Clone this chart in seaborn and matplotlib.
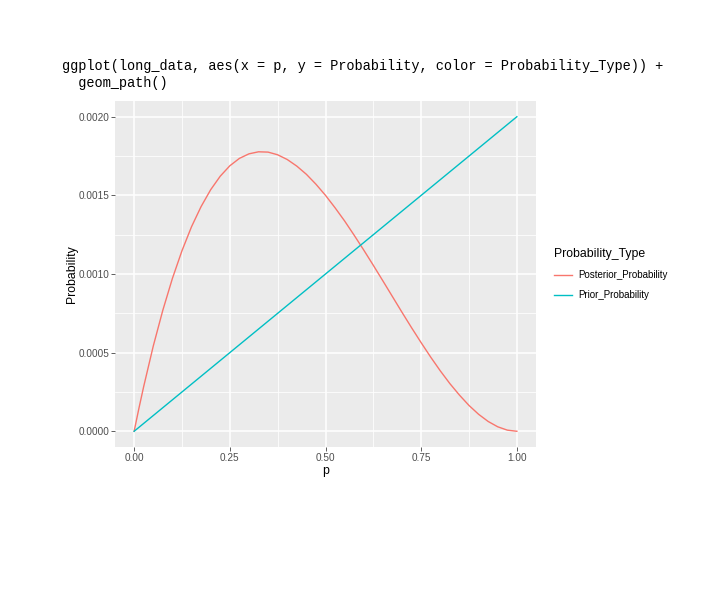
import pandas as pd
import matplotlib
matplotlib.use("Agg")
import matplotlib.pyplot as plt
import seaborn as sns

# values
p_grid = [0.000, 0.0125, 0.025, 0.050, 0.075, 0.100, 0.125, 0.150, 0.175, 0.200, 0.225,
          0.250, 0.275, 0.300, 0.325, 0.350, 0.375, 0.400, 0.425, 0.450, 0.475,
          0.500, 0.525, 0.550, 0.575, 0.600, 0.625, 0.650, 0.675, 0.700, 0.725,
          0.750, 0.775, 0.800, 0.825, 0.850, 0.875, 0.900, 0.925, 0.950, 0.975, 1.000]
posterior = [0.0, 0.000146, 0.000285, 0.000542, 0.000770, 0.000972, 0.001148, 0.001301,
             0.001429, 0.001536, 0.001622, 0.001688, 0.001735, 0.001764, 0.001777,
             0.001775, 0.001758, 0.001728, 0.001686, 0.001634, 0.001571, 0.001500,
             0.001421, 0.001337, 0.001246, 0.001152, 0.001055, 0.000956, 0.000856,
             0.000756, 0.000658, 0.000563, 0.000471, 0.000384, 0.000303, 0.000230,
             0.000164, 0.000108, 0.0000624, 0.0000285, 0.0000073, 0.0]
prior_p = [0.0, 0.25, 0.5, 0.75, 1.0]
prior = [0.0, 0.0005, 0.0010, 0.0015, 0.0020]

x_ticks = [0.0, 0.25, 0.5, 0.75, 1.0]
x_labels = ["0.00", "0.25", "0.50", "0.75", "1.00"]
y_ticks = [0.0, 0.0005, 0.0010, 0.0015, 0.0020]
y_labels = ["0.0000", "0.0005", "0.0010", "0.0015", "0.0020"]

long_data = pd.concat([
    pd.DataFrame({"p": p_grid, "Probability": posterior,
                  "Probability_Type": "Posterior_Probability"}),
    pd.DataFrame({"p": prior_p, "Probability": prior,
                  "Probability_Type": "Prior_Probability"}),
], ignore_index=True)

plt.rcParams["font.family"] = ["Liberation Sans", "DejaVu Sans"]

fig = plt.figure(figsize=(7.11, 5.89), dpi=100)
ax = fig.add_axes([115 / 711, 1 - 447 / 589, (536 - 115) / 711, (447 - 101) / 589])
ax.set_facecolor("#EBEBEB")

sns.lineplot(data=long_data, x="p", y="Probability", hue="Probability_Type",
             palette={"Posterior_Probability": "#F8766D", "Prior_Probability": "#00BFC4"},
             sort=False, estimator=None, linewidth=1.0, ax=ax, legend=False, zorder=3)

ax.set_xlim(-0.05, 1.05)
ax.set_ylim(-0.0001, 0.0021)
ax.set_xticks(x_ticks)
ax.set_xticklabels(x_labels)
ax.set_yticks(y_ticks)
ax.set_yticklabels(y_labels)
ax.set_xticks([0.125, 0.375, 0.625, 0.875], minor=True)
ax.set_yticks([0.00025, 0.00075, 0.00125, 0.00175], minor=True)
ax.grid(which="major", color="white", linewidth=1.1, zorder=1)
ax.grid(which="minor", color="white", linewidth=0.55, zorder=1)
ax.set_axisbelow(True)
for s in ax.spines.values():
    s.set_visible(False)
ax.tick_params(which="major", length=2.75, width=0.55, color="#333333",
               labelsize=7.2, labelcolor="#4D4D4D", pad=1.5)
ax.tick_params(which="minor", length=0)
ax.set_xlabel("p", fontsize=8.8, labelpad=1.5)
ax.set_ylabel("Probability", fontsize=8.8, labelpad=0)

fig.text(62 / 711, 1 - 59 / 589,
         "ggplot(long_data, aes(x = p, y = Probability, color = Probability_Type)) +\n  geom_path()",
         family="Liberation Mono", fontsize=9.85, va="top", ha="left", linespacing=1.25)

# legend
handles = [plt.Line2D([], [], color="#F8766D", lw=1.0),
           plt.Line2D([], [], color="#00BFC4", lw=1.0)]
leg = fig.legend(handles, ["Posterior_Probability", "Prior_Probability"],
                 title="Probability_Type", loc="upper left",
                 bbox_to_anchor=(550 / 711, 1 - 244 / 589), frameon=False,
                 fontsize=7, title_fontsize=8.8, handlelength=1.9,
                 handletextpad=0.6, labelspacing=1.05, borderaxespad=0)
leg._legend_box.align = "left"

fig.savefig("out.png", dpi=100)
